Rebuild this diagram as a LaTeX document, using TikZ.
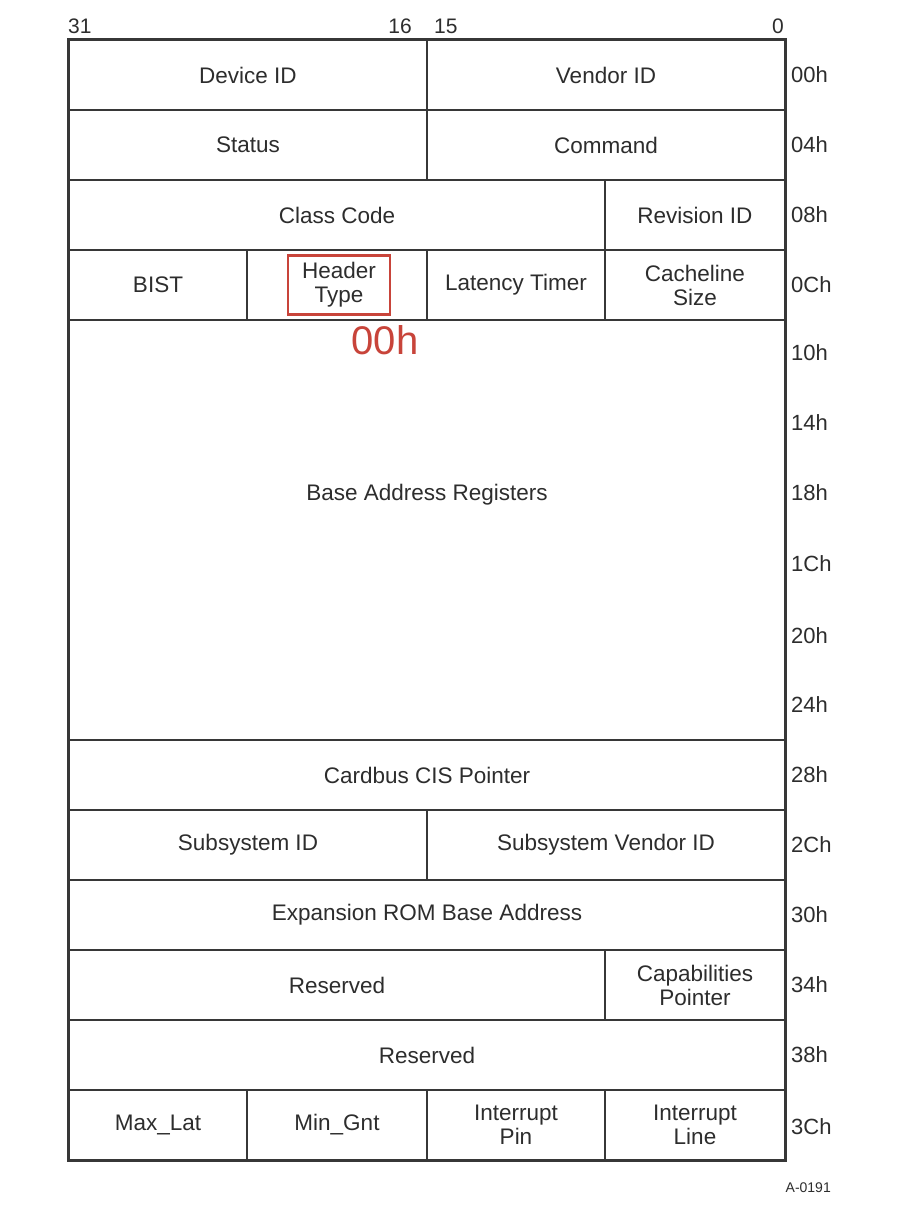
\documentclass[tikz,border=0pt]{standalone}
\usepackage{fontspec}
\setmainfont{Liberation Sans}
\usetikzlibrary{positioning}
\definecolor{rline}{RGB}{55,55,55}
\definecolor{rtext}{RGB}{45,45,45}
\definecolor{hred}{RGB}{200,68,58}

\tikzset{
  cell/.style={draw=rline, line width=1.6pt, inner sep=0pt, align=center,
    text=rtext, font=\fontsize{22.5}{24}\selectfont},
  offlbl/.style={anchor=west, text=rtext, inner sep=0pt, font=\fontsize{22}{24}\selectfont},
  bitlbl/.style={text=rtext, inner sep=0pt, font=\fontsize{21}{24}\selectfont}
}

\begin{document}
\begin{tikzpicture}[x=1pt,y=-1pt]
  \useasboundingbox[fill=white] (0,0) rectangle (908,1211);
  % register cells: name/x/y/width/height/text
  \foreach \nm/\cx/\cy/\w/\h/\txt in {
      devid/248/75/358/70/{Device ID}, venid/606/75/358/70/{Vendor ID},
      status/248/145/358/70/{Status}, cmd/606/145/358/70/{Command},
      clscode/337/215/536/70/{Class Code}, revid/695/215/180/70/{Revision ID},
      bist/158/285/178/70/{BIST}, hdrtype/337/285/180/70/{},
      lattimer/516/285/178/70/{Latency Timer}, cacheline/695/285/180/70/{Cacheline\\Size},
      bar/427/530/716/420/{},
      cis/427/775/716/70/{Cardbus CIS Pointer},
      subid/248/845/358/70/{Subsystem ID}, subven/606/845/358/70/{Subsystem Vendor ID},
      rombase/427/915/716/70/{Expansion ROM Base Address},
      resa/337/985/536/70/{Reserved}, capptr/695/985/180/70/{Capabilities\\Pointer},
      resb/427/1055/716/70/{Reserved},
      maxlat/158/1125/178/70/{Max\_Lat}, mingnt/337/1125/180/70/{Min\_Gnt},
      intpin/516/1125/178/70/{Interrupt\\Pin}, intline/695/1125/180/70/{Interrupt\\Line}}{
    \node[cell, minimum width=\w pt, minimum height=\h pt] (\nm) at (\cx,\cy) {\txt};
  }
  \node[cell, draw=none] (barlbl) at (427,495) {Base Address Registers};
  % outer frame
  \draw[rline, line width=2.2pt] (devid.north west) rectangle (intline.south east);
  % header type marker
  \node[draw=hred, line width=2.2pt, minimum width=102pt, minimum height=59pt,
        inner sep=0pt, align=center, text=rtext, font=\fontsize{22.5}{24}\selectfont]
        (hdrbox) at (339,285) {Header\\Type};
  \node[text=hred, inner sep=0pt, font=\fontsize{40}{44}\selectfont]
        (hdrval) at (385,340) {00h};
  % bit numbers
  \node[bitlbl, anchor=base west] (b31) at (68,33) {31};
  \node[bitlbl, anchor=base east] (b16) at (412,33) {16};
  \node[bitlbl, anchor=base west] (b15) at (434,33) {15};
  \node[bitlbl, anchor=base east] (b0) at (784,33) {0};
  % offsets
  \foreach \off/\oy in {00h/75, 04h/145, 08h/215, 0Ch/285, 10h/353, 14h/423,
      18h/493, 1Ch/564, 20h/636, 24h/705, 28h/775, 2Ch/845, 30h/915,
      34h/985, 38h/1055, 3Ch/1127}{
    \node[offlbl] (off\off) at (791,\oy) {\off};
  }
  \node[text=rtext, inner sep=0pt, anchor=east, font=\fontsize{14}{16}\selectfont]
        (figid) at (831,1188) {A-0191};
\end{tikzpicture}
\end{document}
